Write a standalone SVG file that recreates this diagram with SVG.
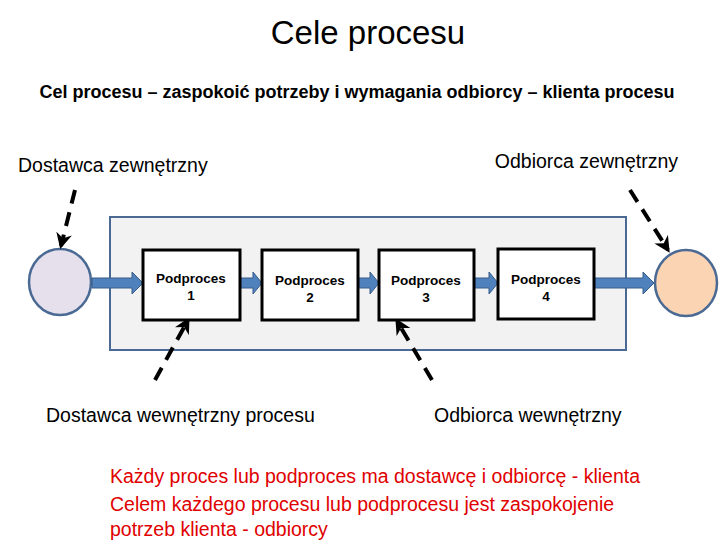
<svg xmlns="http://www.w3.org/2000/svg" width="720" height="540" viewBox="0 0 720 540">
<style>
text{font-family:"Liberation Sans",Arial,sans-serif;fill:#000}
.box{fill:#fff;stroke:#000;stroke-width:3}
.bl{font-size:13.5px;font-weight:bold;text-anchor:middle}
.flow{fill:#4f81bd;stroke:#385d8a;stroke-width:1}
.dash{stroke:#000;stroke-width:4;stroke-dasharray:14 9;fill:none;marker-end:url(#ah)}
.lab{font-size:19.5px}
.red{fill:#e00000;font-size:19.5px}
</style>
<defs>
<marker id="ah" viewBox="0 0 10 10" refX="8" refY="5" markerWidth="4" markerHeight="4" orient="auto" markerUnits="strokeWidth"><path d="M0,0 L10,5 L0,10 L3,5 Z" fill="#000"/></marker>
</defs>
<rect width="720" height="540" fill="#fff"/>
<text x="368" y="44" font-size="33" text-anchor="middle">Cele  procesu</text>
<text x="357" y="98" font-size="18" font-weight="bold" text-anchor="middle">Cel  procesu – zaspokoić potrzeby i wymagania odbiorcy – klienta procesu</text>
<text class="lab" x="18" y="172">Dostawca zewnętrzny</text>
<text class="lab" x="678" y="168" text-anchor="end">Odbiorca zewnętrzny</text>
<text class="lab" x="46" y="422">Dostawca wewnętrzny procesu</text>
<text class="lab" x="434" y="422">Odbiorca wewnętrzny</text>
<text class="red" x="110" y="483">Każdy proces lub podproces ma dostawcę i odbiorcę - klienta</text>
<text class="red" x="110" y="511">Celem każdego procesu lub podprocesu jest zaspokojenie</text>
<text class="red" x="110" y="536">potrzeb klienta - odbiorcy</text>
<g id="container"><rect x="110" y="217" width="516" height="133" fill="#f2f2f2" stroke="#4a6a94" stroke-width="2"/></g>
<g id="supplier"><ellipse cx="60" cy="282" rx="31" ry="33" fill="#e6e0ec" stroke="#4a6a94" stroke-width="2.5"/></g>
<g id="customer"><ellipse cx="686" cy="283" rx="31" ry="33" fill="#fbd4b4" stroke="#4a6a94" stroke-width="2.5"/></g>
<g id="connectors">
<path class="flow" d="M92,278 H132 V272 L143,283 L132,294 V288 H92 Z"/>
<path class="flow" d="M240,278 H253 V272 L262,283 L253,294 V288 H240 Z"/>
<path class="flow" d="M358,278 H370 V272 L379,283 L370,294 V288 H358 Z"/>
<path class="flow" d="M474,278 H489 V272 L498,283 L489,294 V288 H474 Z"/>
<path class="flow" d="M594,278 H643 V272 L654,283 L643,294 V288 H594 Z"/>
<line class="dash" x1="75" y1="190" x2="61" y2="246"/>
<line class="dash" x1="630" y1="190" x2="668" y2="250"/>
<line class="dash" x1="155" y1="380" x2="188" y2="320"/>
<line class="dash" x1="432" y1="380" x2="397" y2="321"/>
</g>
<g id="p1"><rect class="box" x="143" y="250" width="97" height="70"/><text class="bl" x="191" y="283">Podproces</text><text class="bl" x="191" y="300">1</text></g>
<g id="p2"><rect class="box" x="262" y="250" width="96" height="70"/><text class="bl" x="310" y="285">Podproces</text><text class="bl" x="310" y="302">2</text></g>
<g id="p3"><rect class="box" x="379" y="250" width="95" height="70"/><text class="bl" x="426" y="285">Podproces</text><text class="bl" x="426" y="302">3</text></g>
<g id="p4"><rect class="box" x="498" y="249" width="96" height="70"/><text class="bl" x="546" y="284">Podproces</text><text class="bl" x="546" y="301">4</text></g>
</svg>
